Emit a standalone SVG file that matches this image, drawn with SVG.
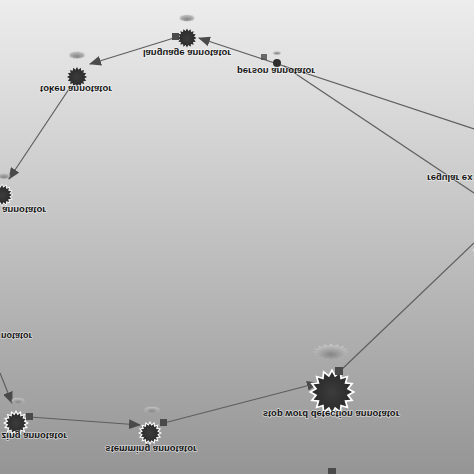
<svg xmlns="http://www.w3.org/2000/svg" width="474" height="474" viewBox="0 0 474 474">
<defs>
<linearGradient id="bg" x1="0" y1="0" x2="0" y2="1">
<stop offset="0" stop-color="#ededed"/>
<stop offset="1" stop-color="#959595"/>
</linearGradient>
<radialGradient id="gh" cx="0.5" cy="0.65" r="0.6">
<stop offset="0" stop-color="#858585"/>
<stop offset="1" stop-color="#c8c8c8"/>
</radialGradient>
<radialGradient id="dk" cx="0.5" cy="0.5" r="0.5">
<stop offset="0" stop-color="#3c3c3c"/>
<stop offset="1" stop-color="#2a2a2a"/>
</radialGradient>
<filter id="blur" x="-30%" y="-50%" width="160%" height="200%"><feGaussianBlur stdDeviation="0.4"/></filter>
<path id="star" d="M10,0 L7.36,1.46 L9.24,3.83 L6.24,4.17 L7.07,7.07 L4.17,6.24 L3.83,9.24 L1.46,7.36 L0,10 L-1.46,7.36 L-3.83,9.24 L-4.17,6.24 L-7.07,7.07 L-6.24,4.17 L-9.24,3.83 L-7.36,1.46 L-10,0 L-7.36,-1.46 L-9.24,-3.83 L-6.24,-4.17 L-7.07,-7.07 L-4.17,-6.24 L-3.83,-9.24 L-1.46,-7.36 L0,-10 L1.46,-7.36 L3.83,-9.24 L4.17,-6.24 L7.07,-7.07 L6.24,-4.17 L9.24,-3.83 L7.36,-1.46 Z"/>
<marker id="arr" markerWidth="12" markerHeight="10" refX="11" refY="5" orient="auto" markerUnits="userSpaceOnUse">
<path d="M0,0 L12,5 L0,10 Z" fill="#4a4a4a"/>
</marker>
</defs>
<style>
.ln{stroke:#5e5e5e;stroke-width:1.2;fill:none}
.sq{fill:#4a4a4a}
.st{fill:url(#dk)}
.halo{fill:#ffffff}
.ghost{fill:url(#gh);filter:url(#blur)}
.lbl{font-family:"Liberation Sans",Arial,sans-serif;font-size:9.5px;font-weight:bold;fill:#151515;stroke:#ffffff;stroke-width:1.4px;stroke-opacity:0.55;paint-order:stroke}
</style>
<rect width="474" height="474" fill="url(#bg)"/>

<g id="connectors">
<line class="ln" x1="474" y1="129" x2="199" y2="38" marker-end="url(#arr)"/>
<line class="ln" x1="284" y1="66" x2="474" y2="193"/>
<line class="ln" x1="174" y1="38" x2="90" y2="64" marker-end="url(#arr)"/>
<line class="ln" x1="71" y1="86" x2="9" y2="179" marker-end="url(#arr)"/>
<line class="ln" x1="0" y1="373" x2="12" y2="403" marker-end="url(#arr)"/>
<line class="ln" x1="30" y1="417" x2="140" y2="425" marker-end="url(#arr)"/>
<line class="ln" x1="164" y1="423" x2="318" y2="383" marker-end="url(#arr)"/>
<line class="ln" x1="339" y1="372" x2="474" y2="243"/>
</g>

<g id="language-annotator">
<use href="#star" class="ghost" transform="translate(187,18) scale(0.85,0.38)"/>
<use href="#star" class="st" transform="translate(187,38) scale(0.95)"/>
<rect class="sq" x="172" y="33" width="7" height="7"/>
<text class="lbl" text-anchor="middle" transform="translate(187,50) scale(1,-1)">language annotator</text>
</g>

<g id="person-annotator">
<use href="#star" class="ghost" transform="translate(277,53) scale(0.45,0.2)"/>
<rect class="sq" x="261" y="54" width="6" height="6" opacity="0.8"/>
<circle cx="277" cy="63" r="4" fill="#2e2e2e"/>
<text class="lbl" text-anchor="middle" transform="translate(276,68) scale(1,-1)">person annotator</text>
</g>

<g id="token-annotator">
<use href="#star" class="ghost" transform="translate(77,55) scale(0.9,0.4)"/>
<use href="#star" class="st" transform="translate(77,77) scale(1)"/>
<text class="lbl" text-anchor="middle" transform="translate(76,86) scale(1,-1)">token annotator</text>
</g>

<g id="node-left-upper">
<use href="#star" class="ghost" transform="translate(4,176) scale(0.7,0.32)"/>
<use href="#star" class="halo" transform="translate(2,195) scale(1.15)"/>
<use href="#star" class="st" transform="translate(2,195) scale(1)"/>
<text class="lbl" text-anchor="end" transform="translate(46,207) scale(1,-1)">annotator</text>
</g>

<g id="node-left-middle">
<text class="lbl" text-anchor="start" textLength="31" lengthAdjust="spacingAndGlyphs" transform="translate(1,333) scale(1,-1)">notator</text>
</g>

<g id="node-zing">
<use href="#star" class="ghost" transform="translate(18,401) scale(0.75,0.35)"/>
<use href="#star" class="halo" transform="translate(16,423) scale(1.3)"/>
<use href="#star" class="st" transform="translate(16,423) scale(1.05)"/>
<rect class="sq" x="26" y="413" width="7" height="7"/>
<text class="lbl" text-anchor="end" transform="translate(67,433) scale(1,-1)">zing annotator</text>
</g>

<g id="stemming-annotator">
<use href="#star" class="ghost" transform="translate(152,410) scale(0.85,0.38)"/>
<use href="#star" class="halo" transform="translate(150,433) scale(1.2)"/>
<use href="#star" class="st" transform="translate(150,433) scale(0.98)"/>
<rect class="sq" x="160" y="419" width="7" height="7"/>
<text class="lbl" text-anchor="middle" transform="translate(151,446) scale(1,-1)">stemming annotator</text>
</g>

<g id="stop-word-detection-annotator">
<use href="#star" class="ghost" transform="translate(331,352) scale(1.85,0.85)"/>
<use href="#star" class="halo" transform="translate(332,392) scale(2.35)"/>
<use href="#star" class="st" transform="translate(332,392) scale(2.0)"/>
<rect class="sq" x="335" y="367" width="8" height="8"/>
<text class="lbl" text-anchor="middle" transform="translate(331,411) scale(1,-1)">stop word detection annotator</text>
</g>

<g id="regular-expression-annotator">
<text class="lbl" text-anchor="start" transform="translate(427,175) scale(1,-1)">regular ex</text>
</g>

<g id="node-right">
<use href="#star" class="halo" transform="translate(486,250) scale(1.35)"/>
<use href="#star" class="st" transform="translate(486,250) scale(1.1)"/>
</g>

<g id="node-bottom">
<rect class="sq" x="328" y="468" width="8" height="8"/>
</g>
</svg>
